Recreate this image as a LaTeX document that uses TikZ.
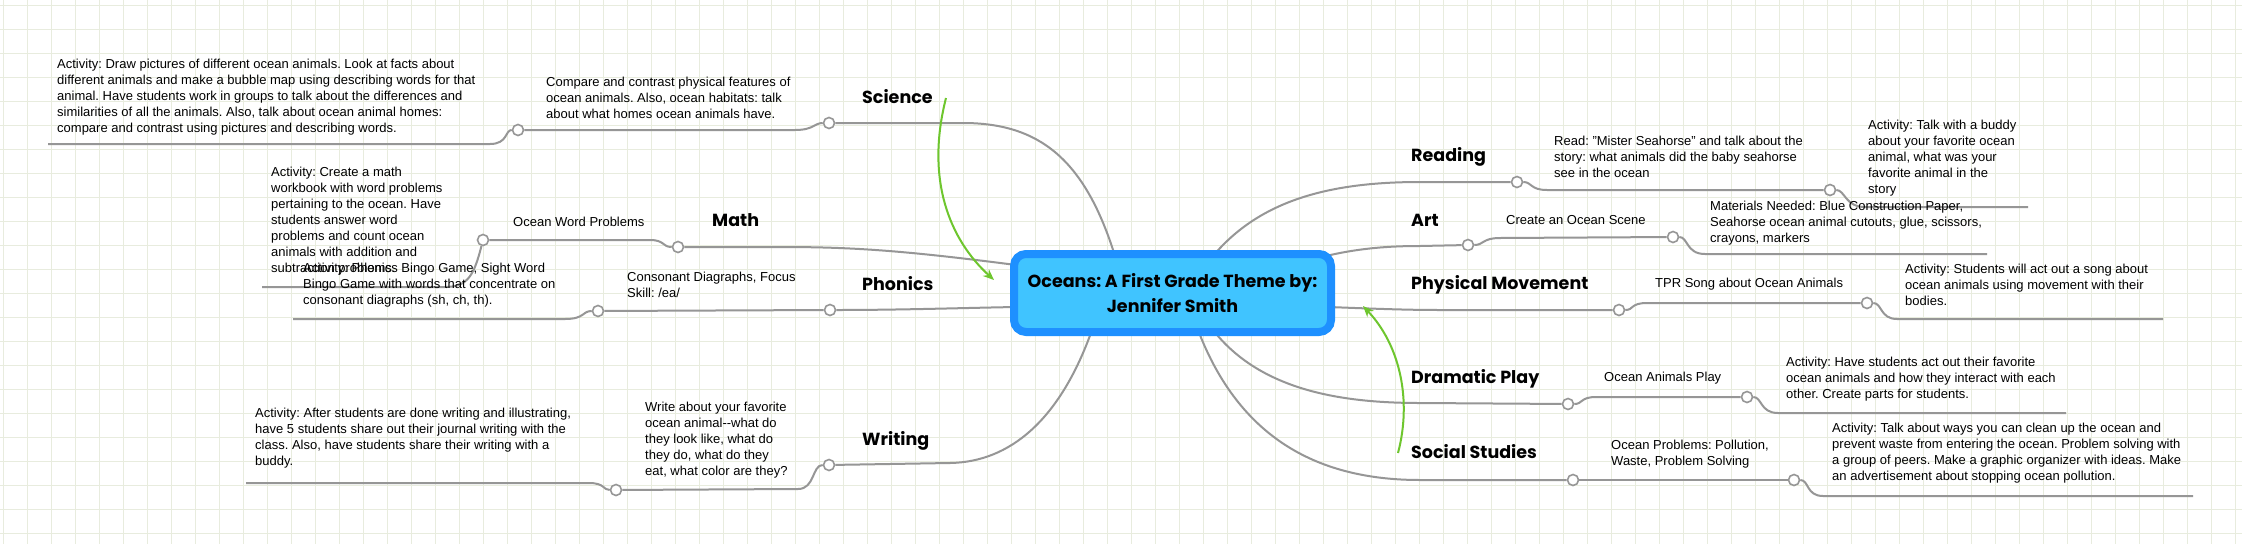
\documentclass[tikz,border=0pt]{standalone}
\usepackage{fontspec}
\setmainfont{Liberation Sans}
\newfontfamily\headfont{Poppins}
\usetikzlibrary{arrows.meta}
\frenchspacing
\definecolor{gridgreen}{RGB}{232,236,222}
\definecolor{linkgray}{RGB}{150,150,150}
\definecolor{rootblue}{RGB}{30,144,255}
\definecolor{rootfill}{RGB}{64,196,255}
\definecolor{relgreen}{RGB}{110,198,46}
\pgfdeclarelayer{gridlayer}
\pgfdeclarelayer{linklayer}
\pgfsetlayers{gridlayer,linklayer,main}
\tikzset{
  gridline/.style={draw=gridgreen, line width=0.8pt},
  link/.style={draw=linkgray, line width=2pt},
  hub/.style={circle, draw=linkgray, fill=white, line width=1.6pt, minimum size=11pt, inner sep=0pt},
  topic/.style={anchor=base west, inner sep=0pt, font=\headfont\bfseries\fontsize{17.5}{22}\selectfont},
  note/.style={anchor=west, inner sep=0pt, align=left, font=\fontsize{13}{16}\selectfont},
  root/.style={rectangle, rounded corners=12pt, draw=rootblue, line width=8pt, fill=rootfill,
    minimum width=317pt, minimum height=78pt, inner sep=0pt, align=center,
    font=\headfont\bfseries\fontsize{17.5}{25}\selectfont},
  rel/.style={draw=relgreen, line width=2pt, -{Stealth[length=11pt,width=9pt]}}
}
\begin{document}
\begin{tikzpicture}[x=1pt,y=-1pt]
\useasboundingbox (0,0) rectangle (2242,544);
\begin{pgfonlayer}{gridlayer}
  \fill[white] (0,0) rectangle (2242,544);
  \foreach \gx in {3,27,...,2235} \draw[gridline] (\gx,0) -- (\gx,544);
  \foreach \gy in {5,29,...,533} \draw[gridline] (0,\gy) -- (2242,\gy);
\end{pgfonlayer}

\node[root] (root) at (1172.5,293) {Oceans: A First Grade Theme by:\\Jennifer Smith};
\coordinate (r-sci) at (1115,256);
\coordinate (r-mth) at (1016,265);
\coordinate (r-pho) at (1016,307);
\coordinate (r-wri) at (1092,330);
\coordinate (r-rea) at (1213,256);
\coordinate (r-art) at (1326,256);
\coordinate (r-phy) at (1329,307);
\coordinate (r-dra) at (1213,330);
\coordinate (r-soc) at (1198,330);

\node[topic] (scit) at (862,103) {Science};
\node[topic] (mtht) at (712,226) {Math};
\node[topic] (phot) at (862,290) {Phonics};
\node[topic] (writ) at (862,445) {Writing};
\node[topic] (reat) at (1411,161) {Reading};
\node[topic] (artt) at (1411,226) {Art};
\node[topic] (phyt) at (1411,289) {Physical Movement};
\node[topic] (drat) at (1411,383) {Dramatic Play};
\node[topic] (soct) at (1411,458) {Social Studies};

\node[hub] (sci) at (829,123) {};
\node[hub] (sci2) at (518,130) {};
\node[hub] (mth) at (678,247) {};
\node[hub] (mth2) at (483,240) {};
\node[hub] (pho) at (830,310) {};
\node[hub] (pho2) at (598,311) {};
\node[hub] (wri) at (829,465) {};
\node[hub] (wri2) at (616,490) {};
\node[hub] (rea) at (1517,182) {};
\node[hub] (rea2) at (1830,190) {};
\node[hub] (art) at (1468,245) {};
\node[hub] (art2) at (1673,237) {};
\node[hub] (phy) at (1619,310) {};
\node[hub] (phy2) at (1867,303) {};
\node[hub] (dra) at (1568,404) {};
\node[hub] (dra2) at (1747,397) {};
\node[hub] (soc) at (1573,480) {};
\node[hub] (soc2) at (1794,480) {};

\coordinate (sci-end) at (48,144);
\coordinate (mth-end) at (262,287);
\coordinate (pho-end) at (293,319);
\coordinate (wri-end) at (246,483);
\coordinate (rea-end) at (2028,207);
\coordinate (art-end) at (1987,254);
\coordinate (phy-end) at (2163,319);
\coordinate (dra-end) at (2066,413);
\coordinate (soc-end) at (2193,496);

\node[note] (scin) at (546,98) {Compare and contrast physical features of\\ocean animals. Also, ocean habitats: talk\\about what homes ocean animals have.};
\node[note] (scia) at (57,97) {Activity: Draw pictures of different ocean animals. Look at facts about\\different animals and make a bubble map using describing words for that\\animal. Have students work in groups to talk about the differences and\\similarities of all the animals. Also, talk about ocean animal homes:\\compare and contrast using pictures and describing words.};
\node[note] (mthn) at (513,222) {Ocean Word Problems};
\node[note] (mtha) at (271,221) {Activity: Create a math\\workbook with word problems\\pertaining to the ocean. Have\\students answer word\\problems and count ocean\\animals with addition and\\subtraction problems.};
\node[note] (phon) at (627,285) {Consonant Diagraphs, Focus\\Skill: /ea/};
\node[note] (phoa) at (303,285) {Activity: Phonics Bingo Game, Sight Word\\Bingo Game with words that concentrate on\\consonant diagraphs (sh, ch, th).};
\node[note] (wrin) at (645,440) {Write about your favorite\\ocean animal-{}-what do\\they look like, what do\\they do, what do they\\eat, what color are they?};
\node[note] (wria) at (255,438) {Activity: After students are done writing and illustrating,\\have 5 students share out their journal writing with the\\class. Also, have students share their writing with a\\buddy.};
\node[note] (rean) at (1554,157) {Read: "Mister Seahorse" and talk about the\\story: what animals did the baby seahorse\\see in the ocean};
\node[note] (reaa) at (1868,158) {Activity: Talk with a buddy\\about your favorite ocean\\animal, what was your\\favorite animal in the\\story};
\node[note] (artn) at (1506,220) {Create an Ocean Scene};
\node[note] (arta) at (1710,223) {Materials Needed: Blue Construction Paper,\\Seahorse ocean animal cutouts, glue, scissors,\\crayons, markers};
\node[note] (phyn) at (1655,284) {TPR Song about Ocean Animals};
\node[note] (phya) at (1905,285) {Activity: Students will act out a song about\\ocean animals using movement with their\\bodies.};
\node[note] (dran) at (1604,378) {Ocean Animals Play};
\node[note] (draa) at (1786,379) {Activity: Have students act out their favorite\\ocean animals and how they interact with each\\other. Create parts for students.};
\node[note] (socn) at (1611,454) {Ocean Problems: Pollution,\\Waste, Problem Solving};
\node[note] (soca) at (1832,453) {Activity: Talk about ways you can clean up the ocean and\\prevent waste from entering the ocean. Problem solving with\\a group of peers. Make a graphic organizer with ideas. Make\\an advertisement about stopping ocean pollution.};

\begin{pgfonlayer}{linklayer}
  \draw[link] (r-sci) .. controls (1085,160) and (1040,123) .. (963,123) -- (sci);
  \draw[link] (sci) .. controls (814,123) and (814,130) .. (795,130) -- (sci2);
  \draw[link] (sci2) .. controls (505,130) and (508,144) .. (490,144) -- (sci-end);
  \draw[link] (r-mth) .. controls (900,250) and (850,247) .. (780,247) -- (mth);
  \draw[link] (mth) .. controls (662,247) and (665,240) .. (650,240) -- (mth2);
  \draw[link] (mth2) .. controls (474,275) and (468,287) .. (445,287) -- (mth-end);
  \draw[link] (r-pho) .. controls (960,308) and (900,310) .. (pho);
  \draw[link] (pho) -- (pho2);
  \draw[link] (pho2) .. controls (582,311) and (585,319) .. (565,319) -- (pho-end);
  \draw[link] (r-wri) .. controls (1060,420) and (1010,462) .. (950,463) -- (wri);
  \draw[link] (wri) .. controls (812,465) and (815,489) .. (798,489) -- (wri2);
  \draw[link] (wri2) .. controls (603,490) and (605,483) .. (589,483) -- (wri-end);
  \draw[link] (r-rea) .. controls (1260,200) and (1330,182) .. (1420,182) -- (rea);
  \draw[link] (rea) .. controls (1532,182) and (1530,190) .. (1547,190) -- (rea2);
  \draw[link] (rea2) .. controls (1845,190) and (1845,207) .. (1865,207) -- (rea-end);
  \draw[link] (r-art) .. controls (1360,248) and (1390,246) .. (1420,246) -- (art);
  \draw[link] (art) .. controls (1484,245) and (1482,238) .. (1500,238) -- (art2);
  \draw[link] (art2) .. controls (1688,237) and (1686,254) .. (1705,254) -- (art-end);
  \draw[link] (r-phy) .. controls (1380,309) and (1410,310) .. (1440,310) -- (phy);
  \draw[link] (phy) .. controls (1634,310) and (1630,303) .. (1647,303) -- (phy2);
  \draw[link] (phy2) .. controls (1882,303) and (1880,319) .. (1897,319) -- (phy-end);
  \draw[link] (r-dra) .. controls (1260,390) and (1340,403) .. (1420,403) -- (dra);
  \draw[link] (dra) .. controls (1583,404) and (1580,397) .. (1596,397) -- (dra2);
  \draw[link] (dra2) .. controls (1762,397) and (1760,413) .. (1778,413) -- (dra-end);
  \draw[link] (r-soc) .. controls (1240,440) and (1320,480) .. (1420,480) -- (soc);
  \draw[link] (soc) -- (soc2);
  \draw[link] (soc2) .. controls (1809,480) and (1806,496) .. (1823,496) -- (soc-end);
\end{pgfonlayer}

\coordinate (rel-a) at (946,98);
\coordinate (rel-b) at (994,280);
\coordinate (rel-c) at (1398,453);
\coordinate (rel-d) at (1363,306);
\draw[rel] (rel-a) .. controls (925,180) and (950,240) .. (rel-b);
\draw[rel] (rel-c) .. controls (1412,400) and (1400,345) .. (rel-d);
\end{tikzpicture}
\end{document}
